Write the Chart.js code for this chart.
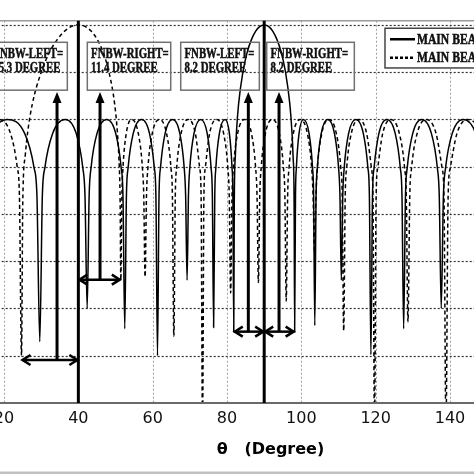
<!DOCTYPE html>
<html>
<head>
<meta charset="utf-8">
<script src="https://cdn.jsdelivr.net/npm/chart.js@4.4.0/dist/chart.umd.min.js"></script>
<style>
  html, body { margin: 0; padding: 0; background: #fff; overflow: hidden; width: 474px; height: 474px; }
  #wrap { position: absolute; left: -100px; top: 0; width: 720px; height: 474px; }
</style>
</head>
<body>
<div id="wrap"><canvas id="c" width="720" height="474"></canvas></div>
<script>
// axis ticks
const degTicks = [0, 20, 40, 60, 80, 100, 120, 140, 160, 180];
const dbGrid = [0, -10, -20, -30, -40, -50, -60, -70];

// main beam at 90 degree (solid)
const solidDeg = [
  14.7, 20.83, 25.58, 28.07, 28.85, 29.62,
  30.31, 30.99, 33.05, 36.48, 39.43, 41.19, 41.78, 42.37,
  42.90, 43.42, 45.00, 47.63, 50.06, 51.51, 52.00, 52.48,
  52.93, 53.39, 54.75, 57.01, 59.15, 60.43, 60.86, 61.29,
  61.70, 62.10, 63.33, 65.36, 67.31, 68.47, 68.86, 69.25,
  69.62, 69.99, 71.10, 72.94, 74.67, 75.70, 76.05, 76.39,
  76.70, 77.00, 77.93, 79.46, 80.64, 81.34, 81.58, 81.81,
  81.95, 82.24, 82.53, 83.11, 84.26, 85.41, 86.56, 87.71, 88.85, 90,
  91.15, 92.29, 93.44, 94.59, 95.74, 96.89, 97.47, 97.76, 98.05, 98.19,
  98.42, 98.66, 99.37, 100.54, 102.08, 103.00, 103.30, 103.61,
  103.96, 104.30, 105.34, 107.06, 108.91, 110.01, 110.38, 110.75,
  111.14, 111.53, 112.70, 114.64, 116.68, 117.90, 118.30, 118.71,
  119.14, 119.57, 120.85, 122.99, 125.26, 126.61, 127.07, 127.52,
  128.01, 128.49, 129.95, 132.37, 135.00, 136.58, 137.10, 137.63,
  138.22, 138.81, 140.58, 143.52, 146.95, 149.01, 149.69, 150.38
];
const solidDb = [
  -23.0, -20.0, -23.0, -30.2, -36.1, -67,
  -36.1, -30.2, -23.0, -20.0, -23.0, -30.2, -36.1, -60,
  -36.1, -30.2, -23.0, -20.0, -23.0, -30.2, -36.1, -64.3,
  -36.1, -30.2, -23.0, -20.0, -23.0, -30.2, -36.1, -70,
  -36.1, -30.2, -23.0, -20.0, -23.0, -30.2, -36.1, -54,
  -36.1, -30.2, -23.0, -20.0, -23.0, -30.2, -36.1, -64,
  -36.1, -30.2, -23.0, -20.0, -23.0, -30.2, -36.1, -65,
  -37.6, -27.6, -22.7, -16.7, -10.0, -5.8, -3.1, -1.3, -0.3, 0,
  -0.3, -1.3, -3.1, -5.8, -10.0, -16.7, -22.7, -27.6, -37.6, -65,
  -36.1, -30.2, -23.0, -20.0, -23.0, -30.2, -36.1, -63.6,
  -36.1, -30.2, -23.0, -20.0, -23.0, -30.2, -36.1, -54,
  -36.1, -30.2, -23.0, -20.0, -23.0, -30.2, -36.1, -69.8,
  -36.1, -30.2, -23.0, -20.0, -23.0, -30.2, -36.1, -64.3,
  -36.1, -30.2, -23.0, -20.0, -23.0, -30.2, -36.1, -60,
  -36.1, -30.2, -23.0, -20.0, -23.0, -30.2, -36.1, -60
];

// main beam at 40 degree (dashed)
const dashedDeg = [
  17, 18.38, 21.76, 23.57, 24.14, 24.70,
  25.04, 25.71, 26.36, 27.62, 30.00, 32.22, 34.31, 36.29, 38.18, 40,
  41.75, 43.45, 45.09, 46.68, 48.24, 49.76, 50.50, 50.87, 51.24, 51.42,
  51.71, 52.00, 52.88, 54.33, 56.14, 57.23, 57.59, 57.95,
  58.33, 58.72, 59.87, 61.79, 63.74, 64.91, 65.30, 65.69,
  66.08, 66.46, 67.63, 69.56, 71.48, 72.63, 73.02, 73.40,
  73.78, 74.16, 75.30, 77.20, 79.09, 80.22, 80.59, 80.97,
  81.34, 81.72, 82.84, 84.71, 86.58, 87.69, 88.07, 88.44,
  88.81, 89.19, 90.31, 92.18, 94.06, 95.18, 95.56, 95.93,
  96.31, 96.69, 97.82, 99.71, 101.62, 102.77, 103.15, 103.53,
  103.92, 104.31, 105.48, 107.42, 109.41, 110.60, 110.99, 111.39,
  111.80, 112.20, 113.43, 115.46, 117.57, 118.84, 119.26, 119.68,
  120.12, 120.56, 121.87, 124.06, 126.37, 127.76, 128.22, 128.68,
  129.17, 129.66, 131.14, 133.59, 136.25, 137.84, 138.37, 138.90,
  139.49, 140.08, 141.85, 144.79, 148.20, 150.24, 150.92, 151.60
];
const dashedDb = [
  -20.3, -20.0, -23.0, -30.2, -36.1, -70,
  -37.6, -27.6, -22.7, -16.7, -10.0, -5.8, -3.1, -1.3, -0.3, 0,
  -0.3, -1.3, -3.1, -5.8, -10.0, -16.7, -22.7, -27.6, -37.6, -54,
  -36.1, -30.2, -23.0, -20.0, -23.0, -30.2, -36.1, -53.3,
  -36.1, -30.2, -23.0, -20.0, -23.0, -30.2, -36.1, -65.9,
  -36.1, -30.2, -23.0, -20.0, -23.0, -30.2, -36.1, -85,
  -36.1, -30.2, -23.0, -20.0, -23.0, -30.2, -36.1, -56.7,
  -36.1, -30.2, -23.0, -20.0, -23.0, -30.2, -36.1, -54.5,
  -36.1, -30.2, -23.0, -20.0, -23.0, -30.2, -36.1, -58.4,
  -36.1, -30.2, -23.0, -20.0, -23.0, -30.2, -36.1, -48,
  -36.1, -30.2, -23.0, -20.0, -23.0, -30.2, -36.1, -64.7,
  -36.1, -30.2, -23.0, -20.0, -23.0, -30.2, -36.1, -85,
  -36.1, -30.2, -23.0, -20.0, -23.0, -30.2, -36.1, -62.8,
  -36.1, -30.2, -23.0, -20.0, -23.0, -30.2, -36.1, -85,
  -36.1, -30.2, -23.0, -20.0, -23.0, -30.2, -36.1, -60
];

const legendLabels = ['MAIN BEAM AT 90 DEGREE', 'MAIN BEAM AT 40 DEGREE'];
const axisTitle = 'θ   (Degree)';

// annotations (degrees / dB)
const beamDirections = [40, 90];
const fnbwText = [
  ['FNBW-LEFT=', '15.3 DEGREE'],
  ['FNBW-RIGHT=', '11.4 DEGREE'],
  ['FNBW-LEFT=', '8.2 DEGREE'],
  ['FNBW-RIGHT=', '8.2 DEGREE']
];
const fnbwBoxFrom = [16.1, 42.41, 67.54, 90.68];
const fnbwBoxTo = [37.03, 64.85, 88.69, 114.25];
const arrowDeg = [34.26, 45.83, 85.73, 93.99];
const spanFrom = [24.70, 40, 81.81, 90];
const spanTo = [40, 51.42, 90, 98.19];
const spanDb = [-70.9, -53.9, -64.9, -64.9];

const boxTopDb = -3.67, boxBottomDb = -13.8, arrowTipDb = -14.2;
const legendDeg = 122.5, legendTopDb = -0.7, legendBottomDb = -9.1;
const titleDeg = 91.7;

function line(ctx, x0, y0, x1, y1) {
  ctx.beginPath();
  ctx.moveTo(x0, y0);
  ctx.lineTo(x1, y1);
  ctx.stroke();
}

// narrow, heavy bold serif like the original labels
function squish(ctx, s, x, y, k) {
  ctx.save();
  ctx.translate(x, y);
  ctx.scale(k, 1);
  ctx.fillText(s, 0, 0);
  ctx.strokeText(s, 0, 0);
  ctx.restore();
}

const overlay = {
  id: 'overlay',
  beforeDatasetsDraw(chart) {
    const { ctx, chartArea: a, scales: { x, y } } = chart;
    ctx.save();
    ctx.setLineDash([2, 2]);
    ctx.lineWidth = 1;
    ctx.strokeStyle = '#a0a0a0';
    degTicks.forEach(v => {
      const px = Math.round(x.getPixelForValue(v)) + 0.5;
      line(ctx, px, a.top, px, a.bottom);
    });
    ctx.strokeStyle = '#303030';
    ctx.lineWidth = 1.2;
    dbGrid.forEach(v => {
      const py = Math.round(y.getPixelForValue(v)) + 0.5;
      line(ctx, a.left, py, a.right, py);
    });
    ctx.setLineDash([]);
    ctx.strokeStyle = '#9a9a9a';
    ctx.lineWidth = 1.5;
    line(ctx, a.left, a.top, a.right, a.top);
    ctx.restore();
  },
  afterDatasetsDraw(chart) {
    const { ctx, chartArea: a, scales: { x, y } } = chart;
    ctx.save();

    // x axis line
    ctx.strokeStyle = '#6a6a6a';
    ctx.lineWidth = 2;
    line(ctx, a.left, a.bottom, a.right, a.bottom);

    // main beam direction markers
    ctx.strokeStyle = '#000';
    ctx.fillStyle = '#000';
    ctx.lineWidth = 3;
    beamDirections.forEach(d => {
      const px = x.getPixelForValue(d);
      line(ctx, px, a.top, px, a.bottom);
    });

    // vertical arrows up to the boxes
    const tip = y.getPixelForValue(arrowTipDb);
    arrowDeg.forEach((d, i) => {
      const px = x.getPixelForValue(d);
      const py = y.getPixelForValue(spanDb[i]);
      ctx.lineWidth = 3;
      line(ctx, px, py, px, tip + 8);
      ctx.beginPath();
      ctx.moveTo(px, tip);
      ctx.lineTo(px - 4.5, tip + 11);
      ctx.lineTo(px + 4.5, tip + 11);
      ctx.closePath();
      ctx.fill();
    });

    // FNBW double arrows
    spanFrom.forEach((d, i) => {
      const x0 = x.getPixelForValue(d);
      const x1 = x.getPixelForValue(spanTo[i]);
      const py = y.getPixelForValue(spanDb[i]);
      ctx.lineWidth = 2.5;
      line(ctx, x0 + 1, py, x1 - 1, py);
      ctx.beginPath();
      ctx.moveTo(x0 + 9, py - 5);
      ctx.lineTo(x0 + 1, py);
      ctx.lineTo(x0 + 9, py + 5);
      ctx.moveTo(x1 - 9, py - 5);
      ctx.lineTo(x1 - 1, py);
      ctx.lineTo(x1 - 9, py + 5);
      ctx.stroke();
    });

    // FNBW text boxes
    const bt = y.getPixelForValue(boxTopDb);
    const bb = y.getPixelForValue(boxBottomDb);
    ctx.font = 'bold 14px "Liberation Serif"';
    ctx.textAlign = 'left';
    ctx.textBaseline = 'alphabetic';
    fnbwBoxFrom.forEach((d, i) => {
      const bx0 = x.getPixelForValue(d);
      const bx1 = x.getPixelForValue(fnbwBoxTo[i]);
      ctx.strokeStyle = '#707070';
      ctx.lineWidth = 1.5;
      ctx.strokeRect(bx0, bt, bx1 - bx0, bb - bt);
      ctx.fillStyle = '#111';
      ctx.strokeStyle = '#111';
      ctx.lineWidth = 0.5;
      squish(ctx, fnbwText[i][0], bx0 + 3.8, bt + 15.4, 0.77);
      squish(ctx, fnbwText[i][1], bx0 + 3.8, bt + 29.5, 0.77);
    });

    // legend
    const lx = x.getPixelForValue(legendDeg);
    const lt = y.getPixelForValue(legendTopDb);
    const lb = y.getPixelForValue(legendBottomDb);
    ctx.fillStyle = '#fff';
    ctx.fillRect(lx, lt, 220, lb - lt);
    ctx.strokeStyle = '#444';
    ctx.lineWidth = 1.5;
    ctx.strokeRect(lx, lt, 220, lb - lt);
    const rows = [lt + 11, lt + 29.4];
    ctx.strokeStyle = '#000';
    ctx.lineWidth = 2.5;
    line(ctx, lx + 5, rows[0], lx + 30, rows[0]);
    ctx.setLineDash([3, 2]);
    line(ctx, lx + 5, rows[1], lx + 30, rows[1]);
    ctx.setLineDash([]);
    ctx.fillStyle = '#111';
    ctx.strokeStyle = '#111';
    ctx.lineWidth = 0.5;
    ctx.textBaseline = 'middle';
    legendLabels.forEach((t, i) => squish(ctx, t, lx + 32, rows[i] + 1, 0.83));

    // axis title
    ctx.font = 'bold 16px "DejaVu Sans"';
    ctx.textAlign = 'center';
    ctx.fillStyle = '#000';
    ctx.fillText(axisTitle, x.getPixelForValue(titleDeg), 450);

    // frame edge at the bottom
    ctx.fillStyle = '#c0c0c0';
    ctx.fillRect(0, 471.5, chart.width, 2.5);
    ctx.restore();
  }
};

new Chart(document.getElementById('c'), {
  type: 'line',
  data: {
    datasets: [
      {
        label: legendLabels[0],
        data: solidDeg.map((d, i) => ({ x: d, y: solidDb[i] })),
        borderColor: '#000',
        borderWidth: 1.5,
        pointRadius: 0,
        fill: false,
        cubicInterpolationMode: 'monotone'
      },
      {
        label: legendLabels[1],
        data: dashedDeg.map((d, i) => ({ x: d, y: dashedDb[i] })),
        borderColor: '#000',
        borderWidth: 1.5,
        borderDash: [4, 3],
        pointRadius: 0,
        fill: false,
        cubicInterpolationMode: 'monotone'
      }
    ]
  },
  options: {
    responsive: false,
    animation: false,
    events: [],
    layout: { padding: { left: 29.7, right: 21.3, top: 20.7, bottom: 39.8 } },
    plugins: { legend: { display: false }, tooltip: { enabled: false } },
    scales: {
      x: {
        type: 'linear',
        min: 0,
        max: 180,
        afterBuildTicks: s => { s.ticks = degTicks.map(v => ({ value: v })); },
        grid: { display: false, drawTicks: false },
        border: { display: false },
        ticks: {
          padding: 6,
          color: '#111',
          autoSkip: false,
          maxRotation: 0,
          font: { family: '"DejaVu Sans"', size: 16 }
        }
      },
      y: { display: false, min: -80, max: 0.9 }
    }
  },
  plugins: [overlay]
});
</script>
</body>
</html>
